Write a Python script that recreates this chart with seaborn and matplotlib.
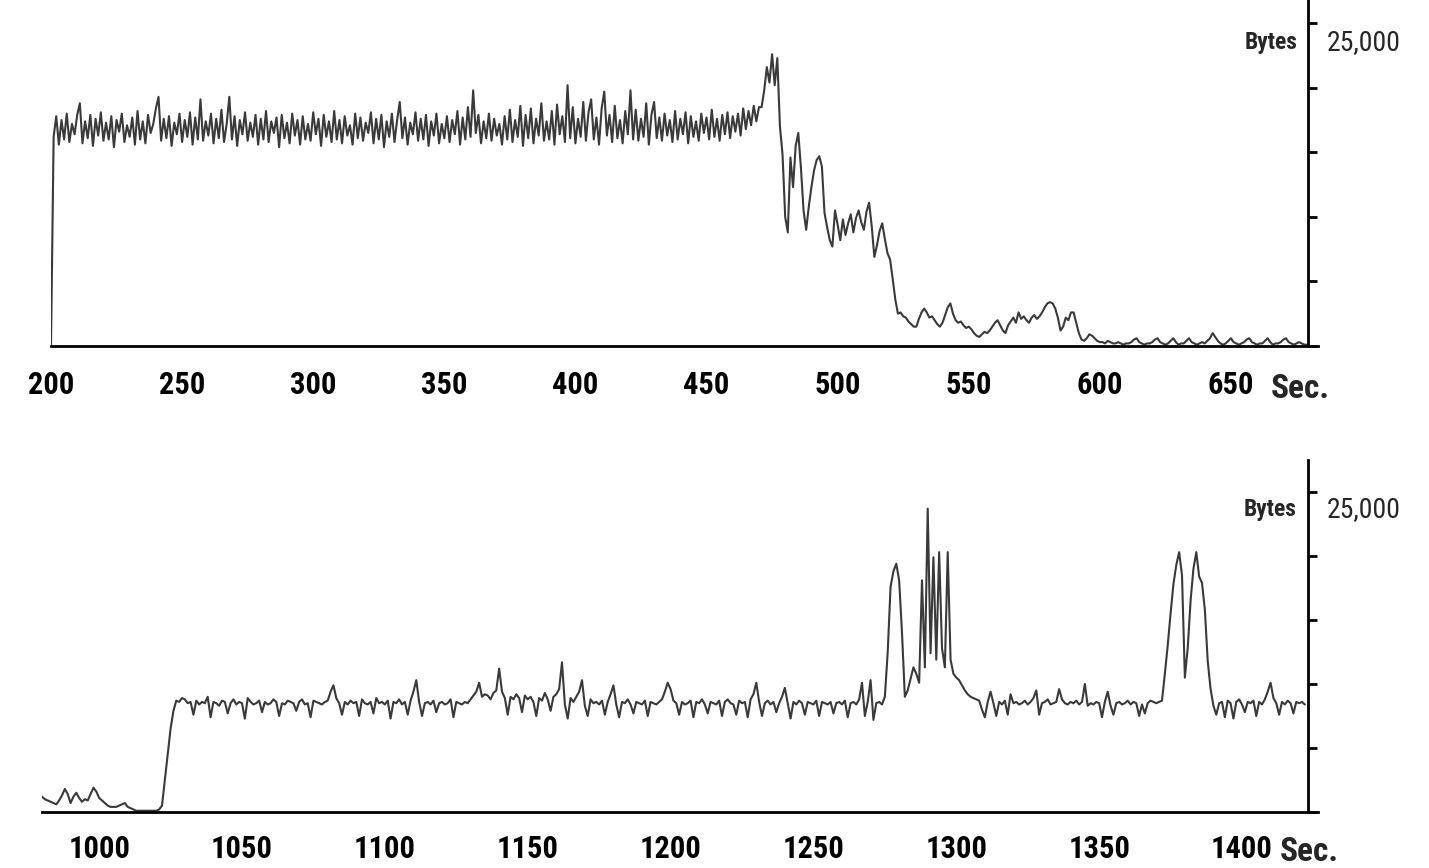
import numpy as np
import pandas as pd
import matplotlib
matplotlib.use("Agg")
import matplotlib.pyplot as plt
import matplotlib.transforms as mtransforms
from matplotlib import font_manager
from matplotlib.ticker import MultipleLocator
import seaborn as sns

# Throughput in kilobytes per second, one value per second
TOP_START = 200
top_kb = [
    0.0,
    16.2, 17.8, 15.6, 17.5, 16.0, 18.0, 15.8, 17.2, 16.4, 17.9,
    18.8, 15.7, 17.4, 16.1, 17.9, 15.5, 17.6, 16.3, 18.1, 15.9,
    17.3, 16.0, 17.8, 15.4, 17.5, 16.6, 18.0, 15.8, 17.1, 16.2,
    17.7, 15.6, 18.2, 16.0, 17.4, 15.7, 17.9, 16.5, 17.2, 18.4,
    19.3, 15.9, 17.6, 16.1, 17.8, 15.5, 17.3, 16.4, 18.0, 15.8,
    17.5, 16.2, 18.1, 15.6, 17.7, 16.0, 19.1, 15.9, 17.4, 16.3,
    18.0, 15.7, 17.6, 16.1, 18.3, 15.8, 17.2, 19.3, 16.0, 17.8,
    15.5, 17.5, 16.4, 18.1, 15.9, 17.3, 16.2, 17.9, 15.6, 17.6,
    16.0, 18.2, 15.8, 17.4, 16.5, 17.7, 15.4, 17.9, 16.1, 17.3,
    15.7, 18.0, 16.3, 17.5, 15.6, 17.8, 16.0, 17.2, 15.9, 18.1,
    16.4, 17.6, 15.5, 17.9, 16.2, 17.4, 15.8, 18.2, 16.0, 17.5,
    15.7, 17.8, 16.3, 17.1, 15.6, 18.0, 16.1, 17.7, 15.9, 17.3,
    16.5, 18.1, 15.7, 17.6, 16.0, 17.9, 15.4, 17.4, 16.2, 18.0,
    15.8, 17.5, 18.9, 16.1, 17.7, 15.6, 17.3, 16.4, 18.1, 15.9,
    17.6, 16.0, 17.9, 15.5, 17.4, 16.3, 18.0, 15.7, 17.2, 16.1,
    17.8, 15.8, 17.5, 16.4, 18.2, 15.6, 17.7, 16.0, 18.5, 16.2,
    19.8, 16.5, 17.9, 15.7, 17.4, 16.1, 18.0, 15.9, 17.6, 16.3,
    17.2, 15.6, 17.8, 16.0, 18.3, 15.8, 17.5, 16.2, 18.6, 15.5,
    17.9, 16.1, 18.4, 15.7, 17.6, 16.3, 18.8, 15.9, 17.4, 16.0,
    18.2, 15.6, 18.7, 16.4, 17.8, 15.8, 20.2, 16.1, 18.5, 15.7,
    17.6, 16.2, 18.9, 15.9, 18.1, 19.1, 16.0, 17.7, 15.6, 18.4,
    19.7, 16.3, 17.9, 15.8, 18.6, 16.1, 17.5, 15.7, 18.2, 16.4,
    19.8, 16.0, 18.3, 15.9, 17.6, 16.2, 18.8, 15.6, 17.9, 18.9,
    16.1, 17.7, 15.9, 18.0, 16.3, 17.5, 15.8, 18.2, 16.0, 17.6,
    16.4, 18.1, 15.7, 17.8, 16.2, 17.4, 15.9, 18.0, 16.5, 17.7,
    16.0, 18.3, 16.2, 17.6, 15.9, 17.9, 16.4, 18.1, 16.1, 17.8,
    16.6, 18.0, 16.3, 18.4, 16.8, 18.2, 17.1, 18.6, 17.4, 18.5,
    18.5, 19.8, 21.6, 20.4, 22.6, 20.2, 22.3, 17.0, 14.8, 10.0,
    8.8, 14.6, 12.3, 15.5, 16.5, 13.8, 10.5, 9.0, 10.8, 12.3,
    13.6, 14.4, 14.7, 13.9, 10.3, 9.2, 8.2, 7.7, 10.5, 9.4,
    8.2, 9.8, 8.6, 9.5, 10.2, 8.8, 9.9, 10.5, 9.6, 9.0,
    10.4, 11.1, 9.3, 6.9, 7.8, 8.9, 9.5, 8.3, 7.2, 6.7,
    5.2, 3.6, 2.5, 2.6, 2.3, 2.2, 1.9, 1.7, 1.5, 1.5,
    2.1, 2.6, 2.9, 2.6, 2.2, 2.3, 2.0, 1.7, 1.5, 1.8,
    2.4, 3.0, 3.3, 2.5, 2.0, 1.8, 1.9, 1.6, 1.4, 1.5,
    1.3, 1.0, 0.8, 0.7, 0.9, 1.1, 1.0, 1.2, 1.5, 1.8,
    2.0, 1.6, 1.2, 1.0, 1.6, 1.9, 2.2, 1.8, 2.6, 2.1,
    2.3, 2.0, 1.8, 2.2, 2.4, 2.1, 2.3, 2.6, 3.0, 3.3,
    3.4, 3.3, 2.9, 2.2, 1.2, 1.5, 2.2, 2.0, 2.6, 2.6,
    1.8, 1.0, 0.5, 0.4, 0.6, 0.9, 0.8, 0.6, 0.4, 0.3,
    0.3, 0.2, 0.4, 0.3, 0.2, 0.2, 0.3, 0.2, 0.1, 0.2,
    0.2, 0.3, 0.5, 0.6, 0.3, 0.2, 0.1, 0.2, 0.2, 0.3,
    0.5, 0.6, 0.3, 0.2, 0.1, 0.2, 0.4, 0.6, 0.3, 0.1,
    0.2, 0.2, 0.4, 0.6, 0.3, 0.2, 0.1, 0.2, 0.3, 0.2,
    0.4, 0.6, 1.0, 0.7, 0.4, 0.2, 0.1, 0.2, 0.4, 0.6,
    0.3, 0.2, 0.1, 0.2, 0.3, 0.5, 0.6, 0.3, 0.2, 0.1,
    0.2, 0.2, 0.4, 0.6, 0.3, 0.1, 0.2, 0.2, 0.3, 0.5,
    0.6, 0.3, 0.2, 0.1, 0.2, 0.3, 0.2, 0.1, 0.1,
]

BOTTOM_START = 980
bottom_kb = [
    1.2, 1.0, 0.9, 0.8, 0.7, 0.6, 0.9, 1.3, 1.8, 1.4,
    0.7, 1.2, 1.5, 1.1, 0.8, 1.0, 0.9, 1.4, 1.9, 1.6,
    1.1, 0.9, 0.7, 0.5, 0.4, 0.4, 0.4, 0.5, 0.6, 0.7,
    0.4, 0.3, 0.2, 0.1, 0.1, 0.1, 0.1, 0.1, 0.1, 0.1,
    0.1, 0.2, 0.5, 2.5, 4.5, 6.5, 7.9, 8.7, 8.6, 8.9,
    8.8, 8.5, 8.6, 7.6, 8.7, 8.4, 8.6, 8.5, 9.0, 7.4,
    8.6, 8.5, 8.3, 8.7, 8.6, 7.7, 8.5, 8.8, 8.4, 8.6,
    8.5, 7.3, 8.9, 8.6, 8.4, 8.5, 8.7, 7.8, 8.6, 8.4,
    8.5, 8.8, 8.6, 7.5, 8.5, 8.4, 8.7, 8.6, 8.5, 7.9,
    8.6, 8.8, 8.4, 8.5, 7.4, 8.7, 8.6, 8.5, 8.4, 8.6,
    8.7, 9.4, 9.9, 8.9, 8.5, 7.6, 8.6, 8.4, 8.7, 8.5,
    8.6, 7.5, 8.8, 8.5, 8.4, 8.6, 7.7, 8.9, 8.5, 8.6,
    8.4, 8.7, 7.3, 8.6, 8.5, 8.8, 8.4, 8.6, 7.6, 8.7,
    9.4, 10.3, 8.6, 7.5, 8.5, 8.6, 8.4, 8.7, 7.8, 8.5,
    8.6, 8.4, 8.5, 8.8, 7.4, 8.6, 8.5, 8.4, 8.6, 8.5,
    8.8, 9.1, 9.4, 10.1, 9.0, 9.2, 9.1, 8.8, 9.3, 9.5,
    11.2, 9.4, 8.9, 7.6, 9.0, 8.8, 9.2, 8.9, 7.8, 9.1,
    8.8, 9.0, 8.6, 7.5, 8.9, 8.7, 9.3, 8.8, 7.9, 9.0,
    9.2, 9.6, 11.7, 8.4, 7.3, 8.9, 8.6, 9.0, 9.4, 10.3,
    8.3, 7.5, 8.8, 8.5, 8.6, 8.4, 8.7, 7.6, 8.6, 9.2,
    9.9, 8.4, 7.4, 8.6, 8.5, 8.8, 8.4, 7.7, 8.6, 8.5,
    8.4, 8.7, 7.5, 8.6, 8.5, 8.4, 8.6, 8.8, 9.4, 10.1,
    9.6, 8.7, 8.5, 7.6, 8.6, 8.4, 8.5, 8.7, 7.4, 8.6,
    8.5, 8.8, 8.4, 7.7, 8.6, 8.5, 8.4, 8.7, 7.5, 8.6,
    8.8, 8.5, 8.4, 7.6, 8.7, 8.5, 8.6, 7.4, 8.8, 9.2,
    10.1, 8.6, 7.5, 8.5, 8.7, 8.4, 8.6, 7.8, 8.5, 9.0,
    9.7, 8.5, 7.3, 8.6, 8.4, 8.7, 8.5, 7.6, 8.6, 8.5,
    8.4, 8.7, 7.5, 8.6, 8.5, 8.4, 8.6, 7.7, 8.5, 8.6,
    8.4, 8.7, 7.4, 8.5, 8.6, 8.4, 8.8, 10.1, 7.5, 8.6,
    10.3, 7.2, 8.5, 8.6, 8.4, 9.0, 12.5, 17.6, 18.8, 19.4,
    18.1, 14.0, 9.0, 9.5, 10.4, 11.3, 10.8, 10.1, 18.1, 11.3,
    23.7, 12.4, 19.9, 11.9, 20.3, 12.8, 11.3, 20.3, 11.9, 10.8,
    10.5, 10.3, 9.9, 9.5, 9.2, 9.0, 8.9, 8.8, 8.7, 8.0,
    7.4, 8.6, 9.4, 8.5, 7.5, 8.6, 8.4, 8.7, 7.6, 9.2,
    8.5, 8.6, 8.4, 8.5, 8.7, 8.4, 8.6, 8.9, 9.5, 7.6,
    8.5, 8.6, 8.8, 8.4, 8.5, 8.6, 9.6, 8.8, 8.5, 8.4,
    8.6, 8.5, 8.7, 8.4, 8.6, 10.0, 8.3, 8.5, 8.4, 8.6,
    8.5, 7.4, 8.6, 9.4, 8.3, 7.6, 8.5, 8.6, 8.4, 8.5,
    8.7, 8.4, 8.6, 8.5, 7.5, 8.4, 7.7, 8.5, 8.7, 8.6,
    8.5, 8.6, 8.7, 10.8, 13.0, 15.5, 17.8, 19.3, 20.3, 18.5,
    10.5, 12.8, 16.5, 19.0, 20.3, 18.4, 17.9, 15.8, 11.8, 9.6,
    8.3, 7.6, 8.5, 8.6, 7.4, 8.7, 8.5, 7.3, 8.6, 8.8,
    8.4, 7.8, 8.6, 8.5, 8.7, 7.5, 8.6, 8.4, 8.8, 9.4,
    10.1, 8.9, 8.5, 7.6, 8.6, 8.4, 8.7, 8.5, 7.7, 8.6,
    8.5, 8.6, 8.4,
]

top_df = pd.DataFrame({"sec": np.arange(TOP_START, TOP_START + len(top_kb)), "kb": top_kb})
bottom_df = pd.DataFrame({"sec": np.arange(BOTTOM_START, BOTTOM_START + len(bottom_kb)), "kb": bottom_kb})

sns.set_style("white")

# pick a narrow face if one is installed, else Roboto
installed = {f.name for f in font_manager.fontManager.ttflist}
narrow = [n for n in ["Liberation Sans Narrow", "Roboto Condensed", "Open Sans Condensed",
                      "DejaVu Sans Condensed"] if n in installed]
FONT = narrow[0] if narrow else "Roboto"
plt.rcParams["font.family"] = [FONT, "DejaVu Sans"]
TICK_SIZE = 22 if narrow else 18
NUM_SIZE = 20 if narrow else 17
SEC_SIZE = 24 if narrow else 20
BYTES_SIZE = 17 if narrow else 14

LINE_COLOR = "#3a3a3a"

fig = plt.figure(figsize=(14.29, 8.68), dpi=100)
ax_top = fig.add_axes([51 / 1429, 1 - 346 / 868, (1318 - 51) / 1429, 346 / 868])
ax_bot = fig.add_axes([42 / 1429, 1 - 812 / 868, (1318 - 42) / 1429, (812 - 460) / 868])


def style_axis(ax, xlim, ylim, spine_x, label_pad):
    ax.set_xlim(*xlim)
    ax.set_ylim(*ylim)
    ax.set_xlabel("")
    ax.set_ylabel("")
    for side in ["top", "left"]:
        ax.spines[side].set_visible(False)
    for side in ["right", "bottom"]:
        ax.spines[side].set_linewidth(2.0)
        ax.spines[side].set_color("black")
    ax.spines["right"].set_position(("data", spine_x))
    ax.yaxis.tick_right()
    ax.yaxis.set_major_locator(MultipleLocator(5))
    ax.tick_params(axis="y", which="major", direction="out", length=6.5,
                   width=2.0, color="black", labelright=False, labelleft=False)
    ax.xaxis.set_major_locator(MultipleLocator(50))
    ax.xaxis.set_minor_locator(MultipleLocator(10))
    ax.tick_params(axis="x", which="major", direction="out", length=11,
                   width=2.0, color="black", pad=label_pad,
                   labelsize=TICK_SIZE, labelcolor="black")
    ax.tick_params(axis="x", which="minor", direction="out", length=5,
                   width=2.0, color="black")
    for lab in ax.get_xticklabels():
        lab.set_fontweight("bold")
    ax.grid(False)


def add_labels(ax, y_val, bytes_x, sec_xy):
    blend = mtransforms.blended_transform_factory(ax.transAxes, ax.transData)
    ax.text(bytes_x, y_val, "Bytes", transform=blend, ha="right", va="center",
            fontsize=BYTES_SIZE, fontweight="bold")
    ax.text(1.007, y_val, "25,000", transform=blend, ha="left", va="center",
            fontsize=NUM_SIZE, clip_on=False)
    ax.text(sec_xy[0], sec_xy[1], "Sec.", transform=ax.transAxes, ha="center",
            va="center", fontsize=SEC_SIZE, fontweight="bold")


# top panel
sns.lineplot(data=top_df, x="sec", y="kb", ax=ax_top, color=LINE_COLOR, linewidth=1.5)
style_axis(ax_top, (200, 683.2), (0, 26.8), 679.5, 6)
add_labels(ax_top, 23.5, 0.984, (0.986, -0.123))

# bottom panel
sns.lineplot(data=bottom_df, x="sec", y="kb", ax=ax_bot, color=LINE_COLOR, linewidth=1.5)
style_axis(ax_bot, (980, 1426.6), (0, 27.5), 1423.1, 5)
add_labels(ax_bot, 23.6, 0.9835, (0.993, -0.114))

fig.savefig("out.png", dpi=100, facecolor="white")
